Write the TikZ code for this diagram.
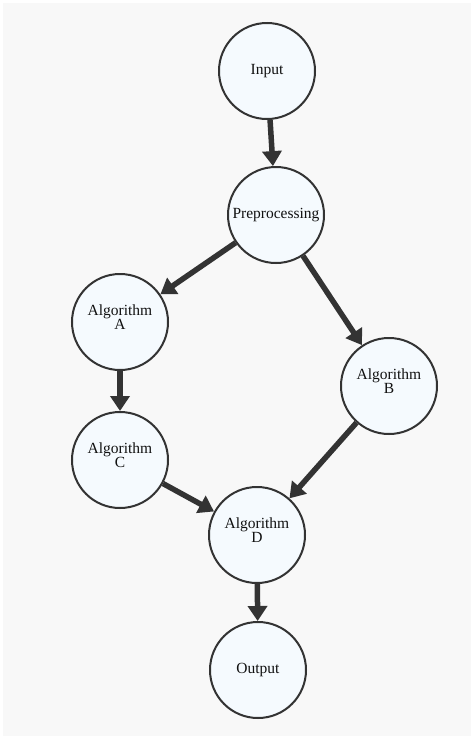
\documentclass[tikz,border=0pt]{standalone}
\usepackage{fontspec}
\setmainfont{Liberation Serif}
\usetikzlibrary{arrows.meta}
\definecolor{bgc}{HTML}{F8F8F8}
\definecolor{nodefill}{HTML}{F5FAFE}
\definecolor{edgec}{HTML}{333333}
\definecolor{txtc}{HTML}{111111}
\tikzset{
  stage/.style={circle, draw=edgec, line width=2pt, fill=nodefill, minimum size=96pt, inner sep=0pt,
    align=center, text=txtc, font=\fontsize{15.5pt}{14pt}\selectfont},
  twoline/.style={stage, text depth=9pt},
  flow/.style={draw=edgec, line width=5.5pt, -{Triangle[width=19pt,length=15pt]}}
}
\begin{document}
\begin{tikzpicture}[x=1pt,y=-1pt]
\useasboundingbox (0,0) rectangle (474,739);
\fill[white] (0,0) rectangle (474,739);
\fill[bgc] (3,3) rectangle (471,736);
\node[stage] (in) at (267,71) {Input};
\node[stage] (pre) at (276,215) {Preprocessing};
\node[twoline] (a) at (120,322) {Algorithm\\A};
\node[twoline] (b) at (389,386) {Algorithm\\B};
\node[twoline] (c) at (120,460) {Algorithm\\C};
\node[twoline] (d) at (257,535) {Algorithm\\D};
\node[stage] (out) at (258,670) {Output};
\draw[flow] (in) -- (pre);
\draw[flow] (pre) -- (a);
\draw[flow] (pre) -- (b);
\draw[flow] (a) -- (c);
\draw[flow] (c) -- (d);
\draw[flow] (b) -- (d);
\draw[flow] (d) -- (out);
\end{tikzpicture}
\end{document}
